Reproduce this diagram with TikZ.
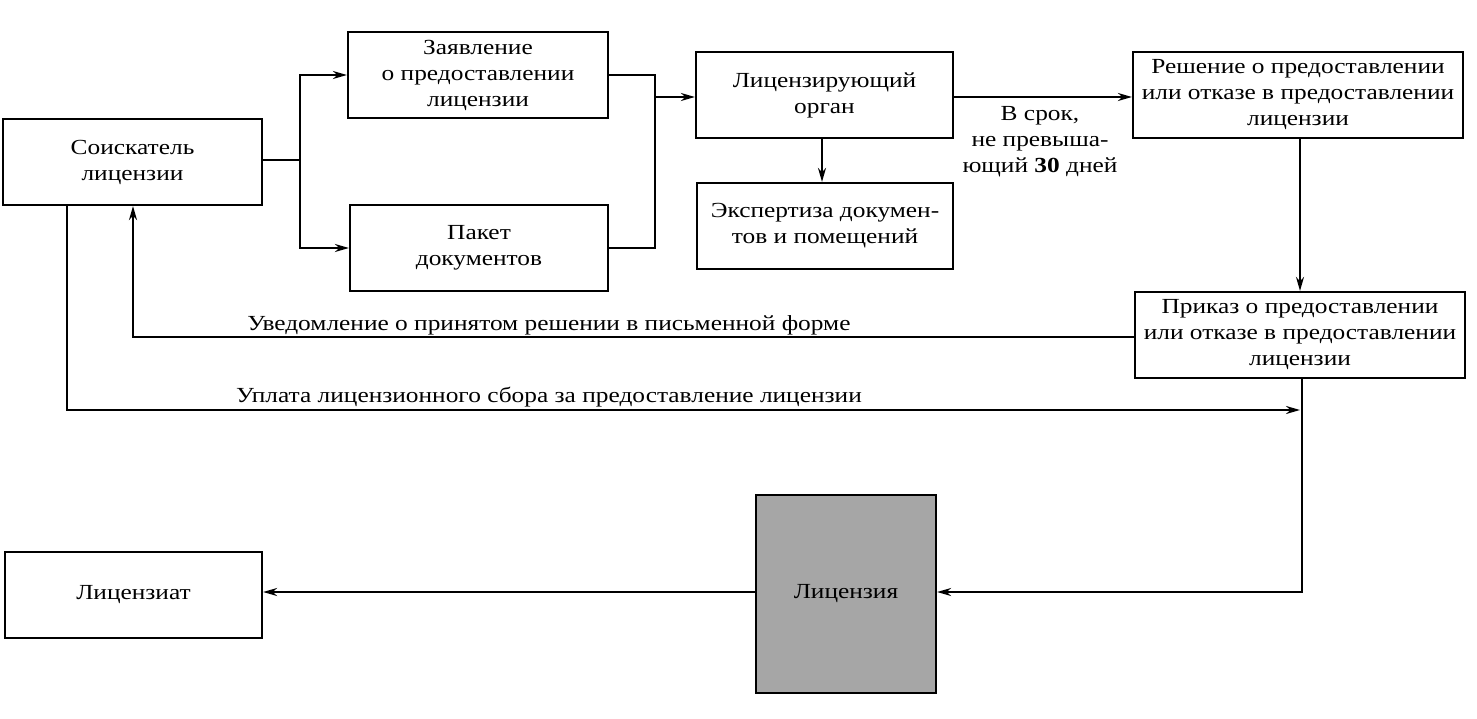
\documentclass[tikz,border=0pt]{standalone}
\usepackage{fontspec}
\setmainfont[FakeStretch=1.18]{Liberation Serif}
\usetikzlibrary{arrows.meta}
\begin{document}
\begin{tikzpicture}[x=1pt,y=-1pt,
  font=\fontsize{21.5}{26}\selectfont,
  box/.style={draw,line width=2.2pt,inner sep=0pt,align=center},
  conn/.style={line width=2.2pt},
  arr/.style={conn,-{Stealth[length=14pt,width=8pt]}},
  lbl/.style={inner sep=0pt,align=center}]
\useasboundingbox (0,0) rectangle (1477,719);
\node[box,minimum width=259,minimum height=86] (soisk) at (132.5,162) {Соискатель\\лицензии};
\node[box,minimum width=260,minimum height=86] (zayav) at (478,75) {Заявление\\о предоставлении\\лицензии};
\node[box,minimum width=258,minimum height=86] (paket) at (479,248) {Пакет\\документов};
\node[box,minimum width=257,minimum height=86] (organ) at (824.5,95) {Лицензирующий\\орган};
\node[box,minimum width=256,minimum height=86] (expert) at (825,226) {Экспертиза докумен-\\тов и помещений};
\node[box,minimum width=330,minimum height=86] (resh) at (1298,95) {Решение о предоставлении\\или отказе в предоставлении\\лицензии};
\node[box,minimum width=330,minimum height=86] (prikaz) at (1300,335) {Приказ о предоставлении\\или отказе в предоставлении\\лицензии};
\node[box,minimum width=257,minimum height=86] (licat) at (133.5,595) {Лицензиат};
\node[box,fill=black!35,minimum width=180,minimum height=198] (lic) at (846,594) {Лицензия};
% connectors
\coordinate (j1) at (300,160);
\draw[conn] (soisk.east |- j1) -- (j1);
\draw[arr] (j1) |- (zayav.west);
\draw[arr] (j1) |- (paket.west);
\coordinate (j2) at (655,97);
\draw[conn] (zayav.east) -| (j2);
\draw[conn] (paket.east) -| (j2);
\draw[arr] (j2) -- (organ.west |- j2);
\draw[arr] (organ.east |- j2) -- (resh.west |- j2);
\node[lbl] (srok) at (1040,142) {В срок,\\не превыша-\\ющий \textbf{30} дней};
\draw[arr] (organ.south -| 822,0) -- (expert.north -| 822,0);
\draw[arr] (resh.south -| 1300,0) -- (prikaz.north -| 1300,0);
\coordinate (u1) at (133,337);
\draw[arr] (prikaz.west |- u1) -- (u1) -- (soisk.south -| u1);
\node[lbl,anchor=base] (uved) at (549,330) {Уведомление о принятом решении в письменной форме};
\coordinate (p1) at (67,410);
\coordinate (p2) at (1300,410);
\draw[arr] (soisk.south -| p1) -- (p1) -- (p2);
\node[lbl,anchor=base] (upl) at (549,402) {Уплата лицензионного сбора за предоставление лицензии};
\coordinate (q1) at (1302,592);
\draw[arr] (prikaz.south -| q1) -- (q1) -- (lic.east |- q1);
\draw[arr] (lic.west |- q1) -- (licat.east |- q1);
\end{tikzpicture}
\end{document}
